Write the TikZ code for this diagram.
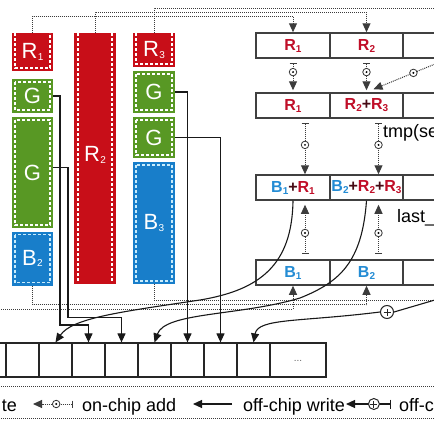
\documentclass[tikz,border=0pt]{standalone}
\usepackage{fontspec}
\setmainfont{Liberation Sans}
\usetikzlibrary{arrows.meta}
\definecolor{blkred}{RGB}{200,14,24}
\definecolor{blkgreen}{RGB}{88,152,36}
\definecolor{blkblue}{RGB}{24,126,202}
\definecolor{txtred}{RGB}{192,14,40}
\definecolor{txtblue}{RGB}{36,140,212}
\definecolor{txtplus}{RGB}{70,10,20}
\definecolor{cellgray}{RGB}{64,64,64}
\definecolor{dashcyan}{RGB}{200,236,252}
\definecolor{dotgray}{RGB}{60,60,60}
\newcommand{\blkl}[2]{#1\kern0.3pt\raisebox{-1.5pt}{\fontsize{10}{10}\selectfont #2}}
\newcommand{\arrl}[2]{#1\raisebox{-2pt}{\fontsize{10}{10}\selectfont\bfseries #2}}
\begin{document}
\begin{tikzpicture}[x=1pt,y=-1pt,
  tri/.tip={Triangle[width=8pt,length=9pt]},
  blk/.style={inner sep=0pt, outer sep=0pt, text=white, font=\fontsize{22}{22}\selectfont},
  redblk/.style={blk, fill=blkred},
  greenblk/.style={blk, fill=blkgreen},
  blueblk/.style={blk, fill=blkblue},
  wdash/.style={draw=white, line width=1.4pt, dash pattern=on 3pt off 2pt},
  cdash/.style={draw=dashcyan, line width=1.4pt, dash pattern=on 3pt off 2pt},
  cellbox/.style={draw=cellgray, line width=1.5pt, minimum width=74, minimum height=25, inner sep=0pt, font=\fontsize{16}{16}\selectfont\bfseries},
  mcell/.style={draw=black!85, line width=1.2pt, minimum width=33, minimum height=34, inner sep=0pt},
  rd/.style={draw=dotgray, line width=1pt, dash pattern=on 1pt off 1pt},
  oadd/.style={rd, {Bar[width=7pt,line width=1pt]}-tri},
  wr/.style={draw=black!90, line width=1.1pt, -tri},
  odot/.style={circle, draw=black!80, fill=white, line width=0.8pt, minimum size=7.5pt, inner sep=0pt, solid,
    path picture={\fill[black] (path picture bounding box.center) circle (1.1pt);}},
  oplus/.style={circle, draw=black!85, fill=white, line width=1pt, minimum size=#1, inner sep=0pt, solid,
    path picture={\draw[-, solid, line width=1pt] ([xshift=-3.5pt]path picture bounding box.center) -- ([xshift=3.5pt]path picture bounding box.center);
                  \draw[-, solid, line width=1pt] ([yshift=-3.5pt]path picture bounding box.center) -- ([yshift=3.5pt]path picture bounding box.center);}},
  lgtext/.style={inner sep=0pt, font=\fontsize{18}{18}\selectfont, anchor=base west}
]
\useasboundingbox (0,0) rectangle (434,434);
\clip (0,0) rectangle (434,434);
\fill[white] (0,0) rectangle (434,434);

% ---------- left blocks ----------
\node[redblk, minimum width=41, minimum height=38] (r1) at (32.5,52) {\blkl{R}{1}};
\node[greenblk, minimum width=41, minimum height=34] (g1) at (32.5,96) {G};
\node[greenblk, minimum width=41, minimum height=111] (g2) at (32.5,172.5) {G};
\node[blueblk, minimum width=41, minimum height=54] (b2) at (32.5,258.5) {\blkl{B}{2}};
\node[redblk, minimum width=42, minimum height=251] (r2) at (95,158.5) {};
\node[blk] (r2l) at (95,155) {\blkl{R}{2}};
\node[redblk, minimum width=42, minimum height=34] (r3) at (154,50) {\blkl{R}{3}};
\node[greenblk, minimum width=42, minimum height=42] (g3) at (154,92) {G};
\node[greenblk, minimum width=42, minimum height=41] (g4) at (154,137.5) {G};
\node[blueblk, minimum width=42, minimum height=122] (b3) at (154,223) {\blkl{B}{3}};

\draw[wdash] ([shift={(3,0)}]r1.north west) |- ([shift={(-3,-3)}]r1.south east) -- ([shift={(-3,0)}]r1.north east);
\draw[wdash] ([shift={(3,3)}]g1.north west) rectangle ([shift={(-3,-3)}]g1.south east);
\draw[wdash] ([shift={(3,3)}]g2.north west) rectangle ([shift={(-3,-3)}]g2.south east);
\draw[cdash] ([shift={(3,3)}]b2.north west) rectangle ([shift={(-3,-3)}]b2.south east);
\draw[wdash] ([shift={(4,0)}]r2.north west) -- ([shift={(4,-2)}]r2.south west);
\draw[wdash] ([shift={(-4,0)}]r2.north east) -- ([shift={(-4,-2)}]r2.south east);
\draw[wdash] ([shift={(3,0)}]r3.north west) |- ([shift={(-3,-3)}]r3.south east) -- ([shift={(-3,0)}]r3.north east);
\draw[wdash] ([shift={(3,3)}]g3.north west) rectangle ([shift={(-3,-3)}]g3.south east);
\draw[wdash] ([shift={(3,3)}]g4.north west) rectangle ([shift={(-3,-3)}]g4.south east);
\draw[cdash] ([shift={(3,3)}]b3.north west) rectangle ([shift={(-3,-3)}]b3.south east);

% ---------- right arrays ----------
\node[cellbox] (c11) at (293,45.5) {\textcolor{txtred}{\arrl{R}{1}}};
\node[cellbox] (c12) at (366.5,45.5) {\textcolor{txtred}{\arrl{R}{2}}};
\node[cellbox] (c13) at (440,45.5) {};
\node[cellbox] (c21) at (293,105.5) {\textcolor{txtred}{\arrl{R}{1}}};
\node[cellbox] (c22) at (366.5,105.5) {\textcolor{txtred}{\arrl{R}{2}}\textcolor{txtplus}{+}\textcolor{txtred}{\arrl{R}{3}}};
\node[cellbox] (c23) at (440,105.5) {};
\node[cellbox] (c31) at (293,187.5) {\textcolor{txtblue}{\arrl{B}{1}}\textcolor{txtplus}{+}\textcolor{txtred}{\arrl{R}{1}}};
\node[cellbox] (c32) at (366.5,187.5) {\textcolor{txtblue}{\arrl{B}{2}}\textcolor{txtplus}{+}\textcolor{txtred}{\arrl{R}{2}}\textcolor{txtplus}{+}\textcolor{txtred}{\arrl{R}{3}}};
\node[cellbox] (c33) at (440,187.5) {};
\node[cellbox] (c41) at (293,272.5) {\textcolor{txtblue}{\arrl{B}{1}}};
\node[cellbox] (c42) at (366.5,272.5) {\textcolor{txtblue}{\arrl{B}{2}}};
\node[cellbox] (c43) at (440,272.5) {};

\node[lgtext] (tmp) at (383,137) {tmp(se};
\node[lgtext] (last) at (397,222) {last\_};

% ---------- bottom array ----------
\foreach \i in {0,...,8} {\node[mcell] (m\i) at ({-10.5+33*\i},360) {};}
\node[mcell, minimum width=56] (m9) at (298,360) {\raisebox{-3pt}{\fontsize{10}{10}\selectfont\color{black!60}...}};
\draw[black!85, line width=1.7pt] (m2.north west) rectangle (m2.south east);
\draw[black!85, line width=1.7pt] (m8.north west) rectangle (m8.south east);

% ---------- dotted (on-chip) connectors ----------
\coordinate (e1) at (440,8);
\coordinate (e2) at (440,300);
\coordinate (e3) at (440,62);
\coordinate (w1) at (-5,309);
\draw[rd,-tri] (r1.north) -- ++(0,-17) -| (c11.north);
\draw[rd,-tri] (r2.north) -- ++(0,-21) -| (c12.north);
\draw[rd] (r3.north) |- (e1);
\draw[rd] (b3.south) |- (e2);
\draw[rd,-tri] (b2.south) -- ++(0,19) -| (c42.south);
\draw[rd,-tri] (w1) -| (c41.south);

\draw[oadd] ([shift={(0,4)}]c11.south) -- node[odot,pos=0.34]{} ([shift={(0,-2)}]c21.north);
\draw[oadd] ([shift={(0,4)}]c12.south) -- node[odot,pos=0.34]{} ([shift={(0,-2)}]c22.north);
\draw[rd,-tri] (e3) -- node[odot,pos=0.4]{} ([shift={(7,-3)}]c22.north);
\draw[oadd] ([shift={(12,4)}]c21.south) -- node[odot,pos=0.43]{} ([shift={(12,0)}]c31.north);
\draw[oadd] ([shift={(12,4)}]c22.south) -- node[odot,pos=0.43]{} ([shift={(12,0)}]c32.north);
\draw[oadd] ([shift={(12,-5)}]c41.north) -- node[odot,pos=0.43]{} ([shift={(12,4)}]c31.south);
\draw[oadd] ([shift={(12,-5)}]c42.north) -- node[odot,pos=0.43]{} ([shift={(12,4)}]c32.south);

% ---------- solid (off-chip write) connectors ----------
\draw[wr] (g1.east) -- ++(7,0) -- ++(0,229) -| (m3.north);
\draw[wr] ([shift={(0,-5)}]g2.east) -- ++(15,0) -- ++(0,150) -| (m4.north);
\draw[wr] (g3.east) -| (m6.north);
\draw[wr] (g4.east) -| (m7.north);
\draw[wr] (c31.south) .. controls (292,265) and (260,290) .. (200,300) .. controls (120,312) and (72,318) .. (m2.north);
\draw[wr] (c32.south) .. controls (362,262) and (340,282) .. (300,298) .. controls (240,316) and (165,312) .. (m5.north);
\node[oplus=13pt] (pl) at (387,312) {};
\coordinate (e4) at (440,298.5);
\draw[black!90, line width=1.1pt] (e4) -- (pl.east);
\draw[wr] (pl.west) .. controls (300,322) and (258,318) .. (m8.north);

% ---------- legend ----------
\coordinate (la) at (-5,386); \coordinate (lb) at (440,386);
\coordinate (lc) at (-5,418); \coordinate (ld) at (440,418);
\draw[rd, line width=0.9pt] (la) -- (lb);
\draw[rd, line width=0.9pt] (lc) -- (ld);
\node[lgtext, anchor=base east] (t1) at (17,411) {te};
\coordinate (k1s) at (73,404); \coordinate (k1e) at (33,404);
\draw[oadd] (k1s) -- node[odot,pos=0.42]{} (k1e);
\node[lgtext] (t2) at (82,411) {on-chip add};
\coordinate (k2s) at (232,404); \coordinate (k2e) at (193,404);
\draw[wr] (k2s) -- (k2e);
\node[lgtext] (t3) at (243,411) {off-chip write};
\coordinate (k3s) at (391,404); \coordinate (k3e) at (346,404);
\draw[wr, {Bar[width=9pt,line width=1pt]}-tri] (k3s) -- node[oplus=11pt,pos=0.38]{} (k3e);
\node[lgtext] (t4) at (399,411) {off-c};
\end{tikzpicture}
\end{document}
